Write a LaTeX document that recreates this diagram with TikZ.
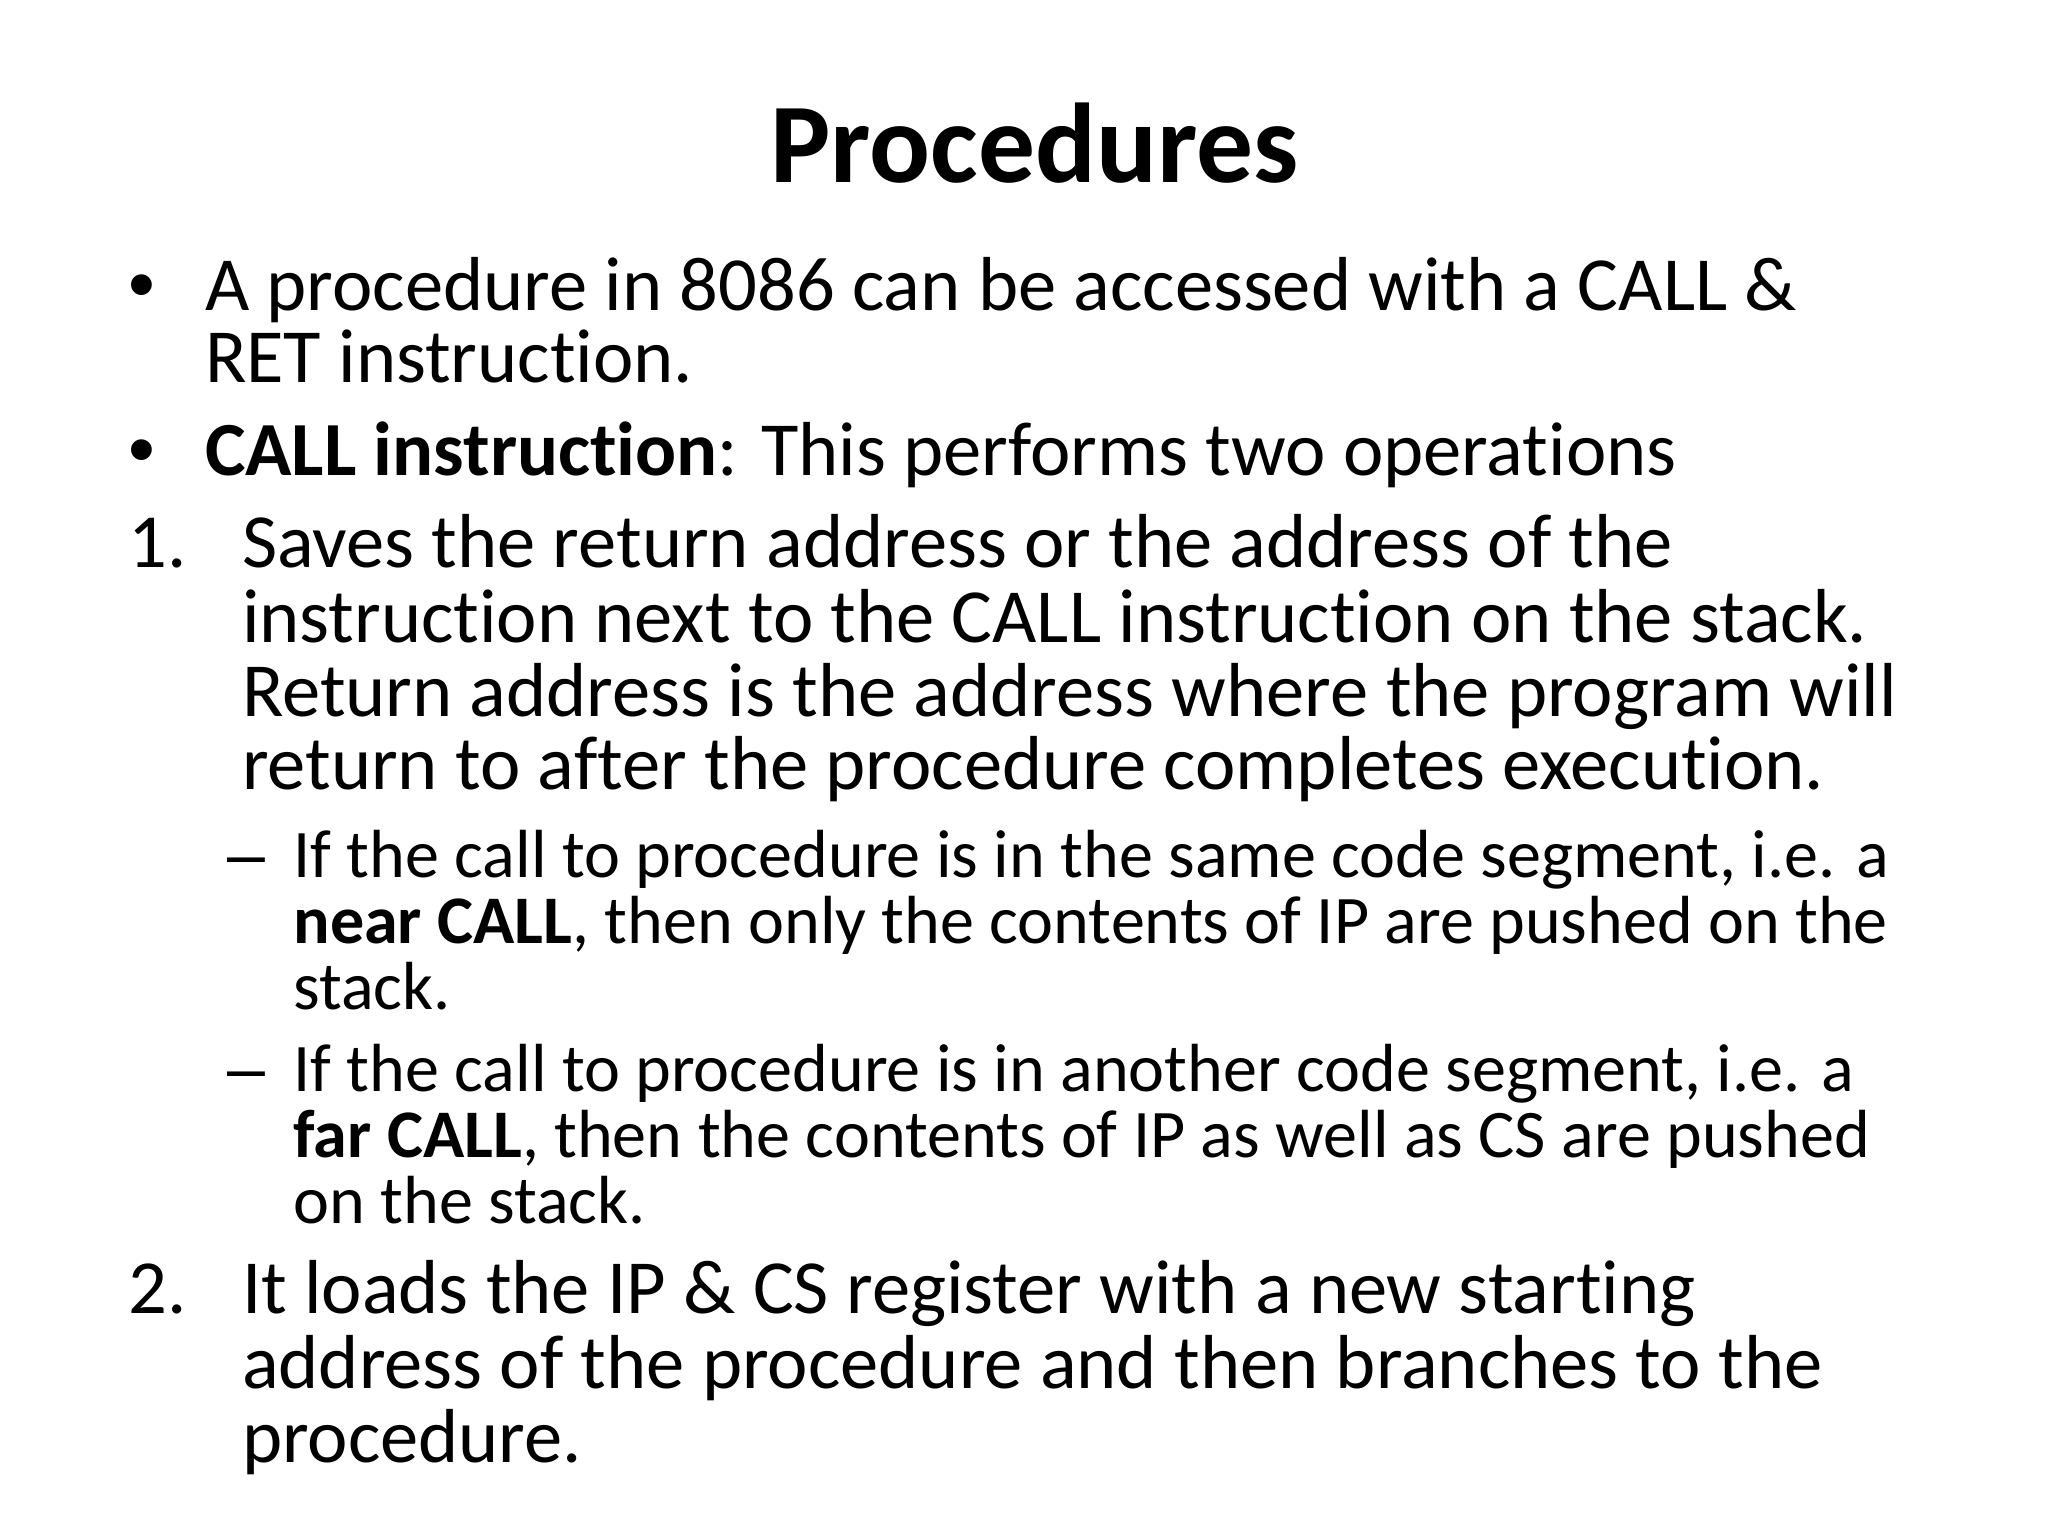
\documentclass[tikz,border=0pt]{standalone}
\usepackage{fontspec}
\setmainfont{Carlito}[RawFeature=-liga]
\newfontfamily\arialf{Liberation Sans}
\begin{document}
\begin{tikzpicture}[x=0.5pt,y=-0.5pt,
  ln/.style={anchor=base west,inner sep=0pt,font=\fontsize{29}{29}\selectfont},
  sl/.style={anchor=base west,inner sep=0pt,font=\fontsize{25.8}{25.8}\selectfont}]
\useasboundingbox (0,0) rectangle (1552,1164);
\fill[white] (0,0) rectangle (1552,1164);
\node[anchor=base,inner sep=0pt,font=\fontsize{43}{43}\selectfont\bfseries] (title) at (784,138) {Procedures};
\node[ln] (b1) at (97,235) {\arialf •};
\node[ln] (t1) at (155,235) {A procedure in 8086 can be accessed with a CALL \&};
\node[ln] (t1b) at (155,290) {RET instruction.};
\node[ln] (b2) at (97,360) {\arialf •};
\node[ln] (t2) at (155,360) {\textbf{CALL instruction}: This performs two operations};
\node[ln] (n1) at (97,430) {1.};
\node[ln] (t3a) at (183,430) {Saves the return address or the address of the};
\node[ln] (t3b) at (183,487) {instruction next to the CALL instruction on the stack.};
\node[ln] (t3c) at (183,543) {Return address is the address where the program will};
\node[ln] (t3d) at (183,598) {return to after the procedure completes execution.};
\node[sl] (d1) at (172,665) {\arialf –};
\node[sl] (s1a) at (222,665) {If the call to procedure is in the same code segment, i.e. a};
\node[sl] (s1b) at (222,715) {\textbf{near CALL}, then only the contents of IP are pushed on the};
\node[sl] (s1c) at (222,765) {stack.};
\node[sl] (d2) at (172,827) {\arialf –};
\node[sl] (s2a) at (222,827) {If the call to procedure is in another code segment, i.e. a};
\node[sl] (s2b) at (222,877) {\textbf{far CALL}, then the contents of IP as well as CS are pushed};
\node[sl] (s2c) at (222,927) {on the stack.};
\node[ln] (n2) at (97,995) {2.};
\node[ln] (t4a) at (183,995) {It loads the IP \& CS register with a new starting};
\node[ln] (t4b) at (183,1052) {address of the procedure and then branches to the};
\node[ln] (t4c) at (183,1108) {procedure.};
\end{tikzpicture}
\end{document}
